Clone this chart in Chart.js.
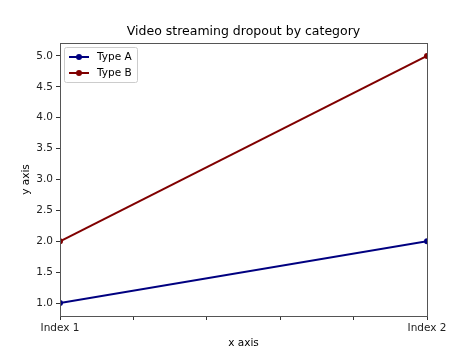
<!DOCTYPE html>
<html>
<head>
<meta charset="utf-8">
<script src="https://cdn.jsdelivr.net/npm/chart.js@4.4.1/dist/chart.umd.min.js"></script>
<style>
  html, body { margin: 0; padding: 0; background: #fff; }
  #wrap { width: 474px; height: 355px; }
</style>
</head>
<body>
<div id="wrap"><canvas id="chart" width="474" height="355"></canvas></div>
<script>
// ── Data ─────────────────────────────────────────────────────
const categories = ['Index 1', 'Index 2'];
const typeA = [1.0, 2.0];
const typeB = [2.0, 5.0];
const yTicks = [1.0, 1.5, 2.0, 2.5, 3.0, 3.5, 4.0, 4.5, 5.0];

const FONT = 'DejaVu Sans';
const toPoints = vals => vals.map((v, i) => ({ x: i, y: v }));

// ── Frame + title + inside legend ────────────────────────────
const frameAndLegend = {
    id: 'frameAndLegend',
    afterDraw(chart) {
        const { ctx, chartArea: a } = chart;
        ctx.save();
        ctx.strokeStyle = '#555';
        ctx.lineWidth = 1;
        ctx.strokeRect(a.left + 0.5, a.top + 0.5, a.right - a.left, a.bottom - a.top);

        // title
        ctx.fillStyle = '#000';
        ctx.font = '12.5px "' + FONT + '"';
        ctx.textAlign = 'center';
        ctx.textBaseline = 'middle';
        ctx.fillText('Video streaming dropout by category', (a.left + a.right) / 2, 32);

        // legend box
        const lx = a.left + 4, ly = a.top + 4;
        ctx.fillStyle = 'rgba(255,255,255,0.85)';
        ctx.strokeStyle = '#ccc';
        ctx.beginPath();
        ctx.roundRect(lx + 0.5, ly + 0.5, 73, 35, 2);
        ctx.fill();
        ctx.stroke();

        ctx.font = '10.5px "' + FONT + '"';
        ctx.textAlign = 'left';
        chart.data.datasets.forEach((ds, i) => {
            const y = ly + 10 + i * 16;
            ctx.strokeStyle = ds.borderColor;
            ctx.lineWidth = 2;
            ctx.beginPath();
            ctx.moveTo(lx + 5, y);
            ctx.lineTo(lx + 25, y);
            ctx.stroke();
            ctx.fillStyle = ds.borderColor;
            ctx.beginPath();
            ctx.arc(lx + 15, y, 3, 0, Math.PI * 2);
            ctx.fill();
            ctx.fillStyle = '#000';
            ctx.fillText(ds.label, lx + 33, y + 0.5);
        });
        ctx.restore();
    }
};

const ctx = document.getElementById('chart').getContext('2d');
new Chart(ctx, {
    type: 'line',
    data: {
        datasets: [
            {
                label: 'Type A',
                data: toPoints(typeA),
                borderColor: '#000080',
                backgroundColor: '#000080',
                borderWidth: 2,
                pointRadius: 3,
                pointBorderWidth: 0,
                tension: 0
            },
            {
                label: 'Type B',
                data: toPoints(typeB),
                borderColor: '#800000',
                backgroundColor: '#800000',
                borderWidth: 2,
                pointRadius: 3,
                pointBorderWidth: 0,
                tension: 0
            }
        ]
    },
    options: {
        responsive: false,
        animation: false,
        layout: { padding: { top: 43, right: 47, left: 0, bottom: 0 } },
        plugins: {
            legend: { display: false },
            title: { display: false },
            tooltip: { enabled: false }
        },
        scales: {
            x: {
                type: 'linear',
                min: 0,
                max: categories.length - 1,
                afterFit: s => { s.height = 39; },
                afterBuildTicks: s => {
                    s.ticks = [0, 0.2, 0.4, 0.6, 0.8, 1].map(v => ({ value: v }));
                },
                ticks: {
                    color: '#222',
                    font: { family: FONT, size: 10.5 },
                    padding: 2,
                    maxRotation: 0,
                    autoSkip: false,
                    callback: v => Number.isInteger(v) ? categories[v] : ''
                },
                grid: {
                    drawOnChartArea: false,
                    drawTicks: true,
                    tickLength: 4,
                    tickColor: '#333'
                },
                border: { display: false },
                title: {
                    display: true,
                    text: 'x axis',
                    color: '#000',
                    font: { family: FONT, size: 10.5 },
                    padding: { top: 0, bottom: 5 }
                }
            },
            y: {
                min: 0.79,
                max: 5.21,
                afterFit: s => { s.width = 60; },
                afterBuildTicks: s => {
                    s.ticks = yTicks.map(v => ({ value: v }));
                },
                ticks: {
                    color: '#222',
                    font: { family: FONT, size: 10.5 },
                    padding: 3,
                    callback: v => v.toFixed(1)
                },
                grid: {
                    drawOnChartArea: false,
                    drawTicks: true,
                    tickLength: 4,
                    tickColor: '#333'
                },
                border: { display: false },
                title: {
                    display: true,
                    text: 'y axis',
                    color: '#000',
                    font: { family: FONT, size: 10.5 },
                    padding: { top: 20, bottom: 0 }
                }
            }
        }
    },
    plugins: [frameAndLegend]
});
</script>
</body>
</html>
